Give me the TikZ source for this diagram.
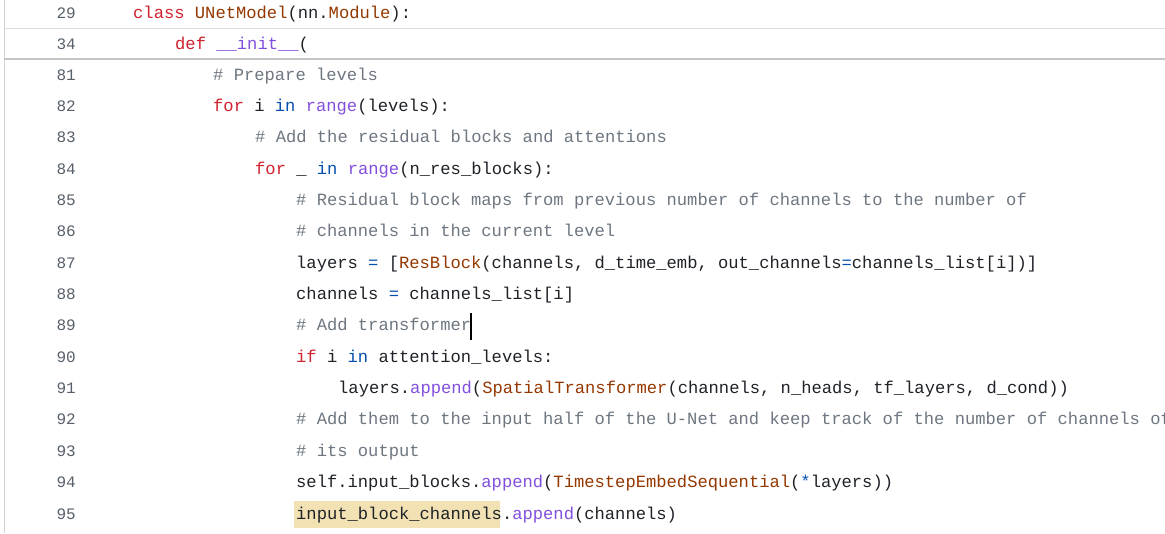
\documentclass[tikz,border=0pt]{standalone}
\usepackage{fontspec}
\setmonofont{Liberation Mono}
\definecolor{ckwc}{HTML}{CF222E}
\definecolor{cclc}{HTML}{953800}
\definecolor{cfnc}{HTML}{8250DF}
\definecolor{copc}{HTML}{0550AE}
\definecolor{ccmc}{HTML}{6E7781}
\definecolor{clnc}{HTML}{57606A}
\definecolor{hlc}{HTML}{F2E2B3}
\definecolor{txc}{HTML}{1F2328}
\newcommand\ckw[1]{\textcolor{ckwc}{#1}}
\newcommand\ccl[1]{\textcolor{cclc}{#1}}
\newcommand\cfn[1]{\textcolor{cfnc}{#1}}
\newcommand\cop[1]{\textcolor{copc}{#1}}
\newcommand\ccm[1]{\textcolor{ccmc}{#1}}
\begin{document}
\begin{tikzpicture}[x=1pt,y=-1pt,
  code/.style={anchor=base west,inner sep=0pt,font=\ttfamily\fontsize{17.15}{17}\selectfont,text=txc},
  lnum/.style={anchor=base east,inner sep=0pt,font=\ttfamily\fontsize{16}{16}\selectfont,text=clnc}]
\useasboundingbox (0,0) rectangle (1165,533);
\clip (0,0) rectangle (1165,533);
\fill[white] (0,0) rectangle (1165,533);
\draw[gray!35,line width=1pt] (4,0) -- (4,533);
\draw[gray!25,line width=0.8pt] (4,28) -- (1165,28);
\draw[gray!45,line width=1.2pt] (4,59) -- (1165,59);
\fill[hlc] (294,501) rectangle (500,528);
\draw[black,line width=1.5pt] (471,313) -- (471,340);
\node[lnum] (n29) at (76,18) {29};
\node[lnum] (n34) at (76,49) {34};
\foreach \n [count=\k from 0] in {81,...,95}{
  \node[lnum] (n\n) at (76,80+31.36*\k) {\n};
}
\node[code] (l29) at (133,18) {\ckw{class} \ccl{UNetModel}(nn.\ccl{Module}):};
\node[code] (l34) at (175,49) {\ckw{def} \cfn{\_\_init\_\_}(};
\node[code] (l81) at (213,80) {\ccm{\# Prepare levels}};
\node[code] (l82) at (213,111.36) {\ckw{for} i \cop{in} \cfn{range}(levels):};
\node[code] (l83) at (255,142.72) {\ccm{\# Add the residual blocks and attentions}};
\node[code] (l84) at (255,174.08) {\ckw{for} \_ \cop{in} \cfn{range}(n\_res\_blocks):};
\node[code] (l85) at (296,205.44) {\ccm{\# Residual block maps from previous number of channels to the number of}};
\node[code] (l86) at (296,236.8) {\ccm{\# channels in the current level}};
\node[code] (l87) at (296,268.16) {layers \cop{=} [\ccl{ResBlock}(channels, d\_time\_emb, out\_channels\cop{=}channels\_list[i])]};
\node[code] (l88) at (296,299.52) {channels \cop{=} channels\_list[i]};
\node[code] (l89) at (296,330.88) {\ccm{\# Add transformer}};
\node[code] (l90) at (296,362.24) {\ckw{if} i \cop{in} attention\_levels:};
\node[code] (l91) at (338,393.6) {layers.\cfn{append}(\ccl{SpatialTransformer}(channels, n\_heads, tf\_layers, d\_cond))};
\node[code] (l92) at (296,424.96) {\ccm{\# Add them to the input half of the U-Net and keep track of the number of channels of}};
\node[code] (l93) at (296,456.32) {\ccm{\# its output}};
\node[code] (l94) at (296,487.68) {self.input\_blocks.\cfn{append}(\ccl{TimestepEmbedSequential}(\cop{*}layers))};
\node[code] (l95) at (296,519.04) {input\_block\_channels.\cfn{append}(channels)};
\end{tikzpicture}
\end{document}
